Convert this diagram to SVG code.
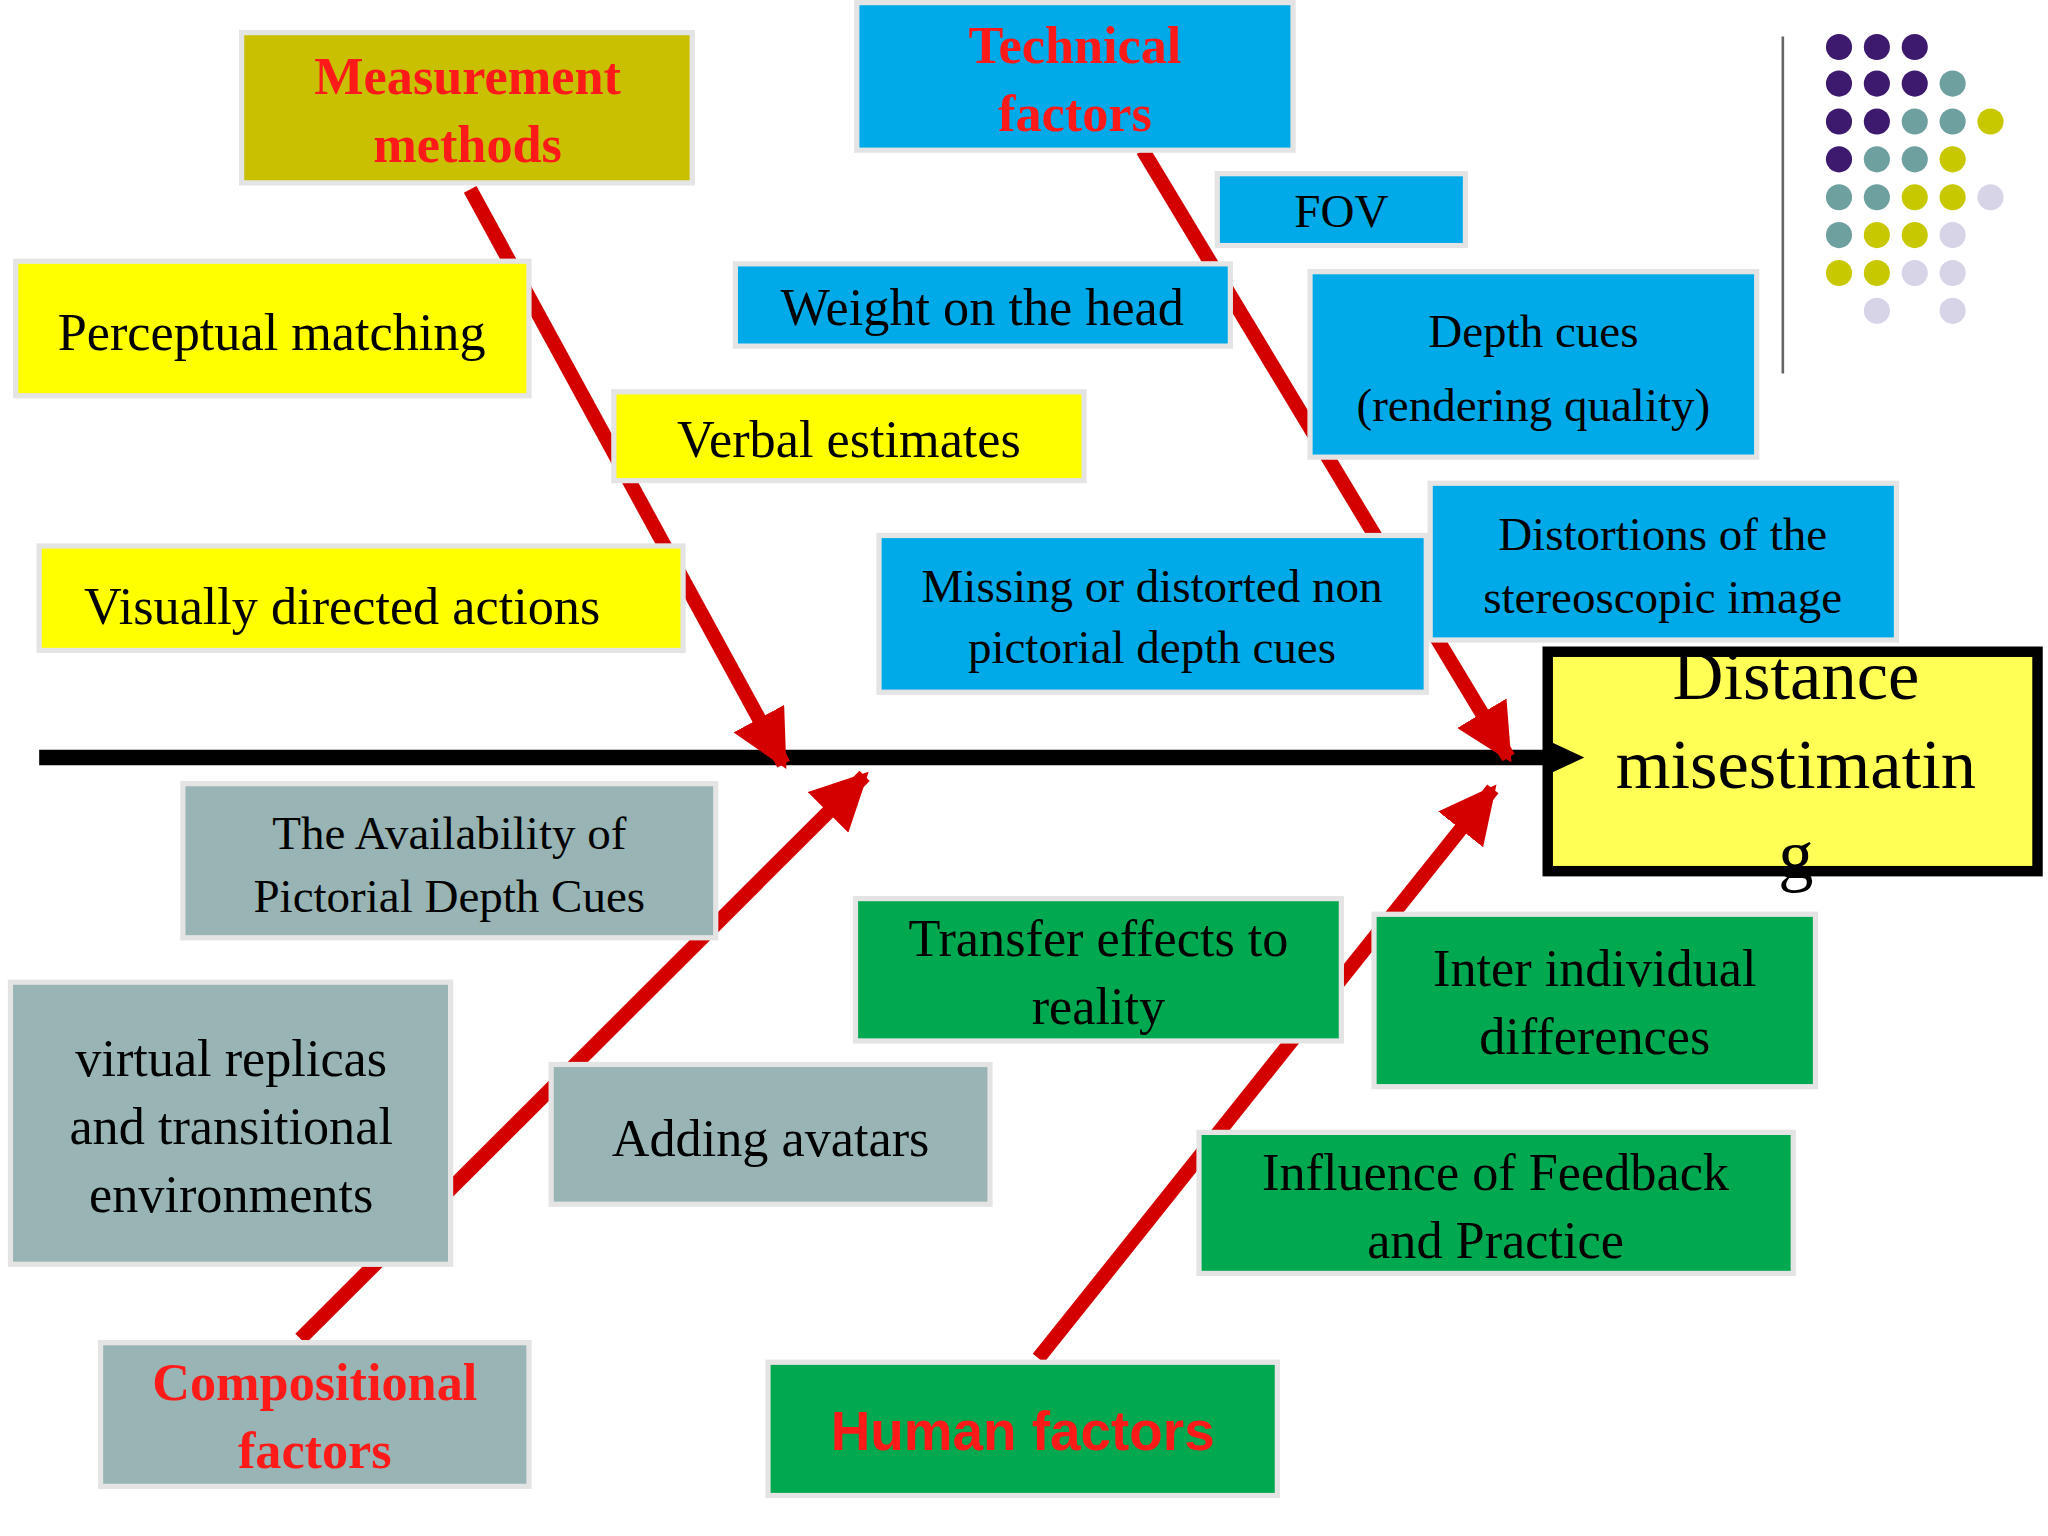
<svg xmlns="http://www.w3.org/2000/svg" width="2048" height="1536" viewBox="0 0 2048 1536">
<style>
.b{stroke:#e4e4e4;stroke-width:4}
.y{fill:#ffff00}.o{fill:#c8c000}.bl{fill:#00aae8}.g{fill:#98b4b4}.gr{fill:#00a84f}
.t{font-family:"Liberation Serif",serif;font-size:40px;fill:#000;text-anchor:middle}
.h{font-family:"Liberation Serif",serif;font-size:40px;font-weight:bold;fill:#ff1a1a;text-anchor:middle}
.r{stroke:#d40000;stroke-width:11;fill:none}
.P{fill:#3d1a6e}.T{fill:#6fa0a0}.Y{fill:#c8c800}.L{fill:#d8d4e8}
</style>
<defs>
<marker id="ra" viewBox="0 0 10 10" refX="9" refY="5" markerWidth="4" markerHeight="4" orient="auto" markerUnits="strokeWidth"><path d="M0,0L10,5L0,10z" fill="#d40000"/></marker>
</defs>
<rect width="2048" height="1536" fill="#fff"/>
<g transform="scale(1.3061)">
<g id="connectors">
<line x1="30" y1="580" x2="1190" y2="580" stroke="#000" stroke-width="12"/>
<line class="r" x1="360" y1="145" x2="600" y2="585" marker-end="url(#ra)"/>
<line class="r" x1="875" y1="115" x2="1155" y2="580" marker-end="url(#ra)"/>
<line class="r" x1="230" y1="1025" x2="662" y2="594" marker-end="url(#ra)"/>
<line class="r" x1="795" y1="1040" x2="1143" y2="604" marker-end="url(#ra)"/>
</g>
<g id="measurement"><rect class="b o" x="185" y="25" width="345" height="115"/><text class="h" x="358" y="72">Measurement</text><text class="h" x="358" y="124">methods</text></g>
<g id="technical"><rect class="b bl" x="656" y="2" width="334" height="113"/><text class="h" x="823" y="48">Technical</text><text class="h" x="823" y="100">factors</text></g>
<g id="fov"><rect class="b bl" x="932" y="133" width="190" height="55"/><text class="t" x="1027" y="174" style="font-size:36px">FOV</text></g>
<g id="weight"><rect class="b bl" x="563" y="202" width="379" height="63"/><text class="t" x="752" y="249">Weight on the head</text></g>
<g id="depth"><rect class="b bl" x="1003" y="208" width="342" height="142"/><text class="t" x="1174" y="266" style="font-size:36px">Depth cues</text><text class="t" x="1174" y="322" style="font-size:36px">(rendering quality)</text></g>
<g id="perceptual"><rect class="b y" x="12" y="200" width="393" height="103"/><text class="t" x="208" y="268">Perceptual matching</text></g>
<g id="verbal"><rect class="b y" x="470" y="300" width="360" height="68"/><text class="t" x="650" y="350">Verbal estimates</text></g>
<g id="visually"><rect class="b y" x="30" y="418" width="493" height="80"/><text class="t" x="262" y="478">Visually directed actions</text></g>
<g id="missing"><rect class="b bl" x="673" y="410" width="419" height="120"/><text class="t" x="882" y="461" style="font-size:36px">Missing or distorted non</text><text class="t" x="882" y="508" style="font-size:36px">pictorial depth cues</text></g>
<g id="distortions"><rect class="b bl" x="1095" y="370" width="357" height="120"/><text class="t" x="1273" y="421" style="font-size:36px">Distortions of the</text><text class="t" x="1273" y="469" style="font-size:36px">stereoscopic image</text></g>
<g id="availability"><rect class="b g" x="140" y="600" width="408" height="118"/><text class="t" x="344" y="650" style="font-size:36px">The Availability of</text><text class="t" x="344" y="698" style="font-size:36px">Pictorial Depth Cues</text></g>
<g id="virtual"><rect class="b g" x="8" y="752" width="337" height="216"/><text class="t" x="177" y="824">virtual replicas</text><text class="t" x="177" y="876">and transitional</text><text class="t" x="177" y="928">environments</text></g>
<g id="avatars"><rect class="b g" x="422" y="815" width="336" height="107"/><text class="t" x="590" y="885">Adding avatars</text></g>
<g id="compositional"><rect class="b g" x="77" y="1028" width="328" height="110"/><text class="h" x="241" y="1072">Compositional</text><text class="h" x="241" y="1124">factors</text></g>
<g id="transfer"><rect class="b gr" x="655" y="688" width="372" height="109"/><text class="t" x="841" y="732">Transfer effects to</text><text class="t" x="841" y="784">reality</text></g>
<g id="inter"><rect class="b gr" x="1052" y="700" width="338" height="132"/><text class="t" x="1221" y="755">Inter individual</text><text class="t" x="1221" y="807">differences</text></g>
<g id="feedback"><rect class="b gr" x="918" y="867" width="455" height="108"/><text class="t" x="1145" y="911">Influence of Feedback</text><text class="t" x="1145" y="963">and Practice</text></g>
<g id="human"><rect class="b gr" x="588" y="1043" width="390" height="102"/><text x="783" y="1110" style="font-family:'Liberation Sans',sans-serif;font-size:42px;font-weight:bold;fill:#ff1a1a;text-anchor:middle">Human factors</text></g>
<g id="distance"><rect x="1185" y="499" width="375" height="168" fill="#ffff55" stroke="#000" stroke-width="8"/><text class="t" x="1375" y="535" style="font-size:54px">Distance</text><text class="t" x="1375" y="603" style="font-size:54px">misestimatin</text><text class="t" x="1375" y="672" style="font-size:54px">g</text></g>
<path d="M1183,566L1213,580L1183,594z" fill="#000"/>
<g id="decor">
<line x1="1365" y1="28" x2="1365" y2="286" stroke="#666" stroke-width="2"/>
<g>
<circle class="P" cx="1408" cy="36" r="10"/><circle class="P" cx="1437" cy="36" r="10"/><circle class="P" cx="1466" cy="36" r="10"/>
<circle class="P" cx="1408" cy="64" r="10"/><circle class="P" cx="1437" cy="64" r="10"/><circle class="P" cx="1466" cy="64" r="10"/><circle class="T" cx="1495" cy="64" r="10"/>
<circle class="P" cx="1408" cy="93" r="10"/><circle class="P" cx="1437" cy="93" r="10"/><circle class="T" cx="1466" cy="93" r="10"/><circle class="T" cx="1495" cy="93" r="10"/><circle class="Y" cx="1524" cy="93" r="10"/>
<circle class="P" cx="1408" cy="122" r="10"/><circle class="T" cx="1437" cy="122" r="10"/><circle class="T" cx="1466" cy="122" r="10"/><circle class="Y" cx="1495" cy="122" r="10"/>
<circle class="T" cx="1408" cy="151" r="10"/><circle class="T" cx="1437" cy="151" r="10"/><circle class="Y" cx="1466" cy="151" r="10"/><circle class="Y" cx="1495" cy="151" r="10"/><circle class="L" cx="1524" cy="151" r="10"/>
<circle class="T" cx="1408" cy="180" r="10"/><circle class="Y" cx="1437" cy="180" r="10"/><circle class="Y" cx="1466" cy="180" r="10"/><circle class="L" cx="1495" cy="180" r="10"/>
<circle class="Y" cx="1408" cy="209" r="10"/><circle class="Y" cx="1437" cy="209" r="10"/><circle class="L" cx="1466" cy="209" r="10"/><circle class="L" cx="1495" cy="209" r="10"/>
<circle class="L" cx="1437" cy="238" r="10"/><circle class="L" cx="1495" cy="238" r="10"/>
</g>
</g>
</g>
</svg>
